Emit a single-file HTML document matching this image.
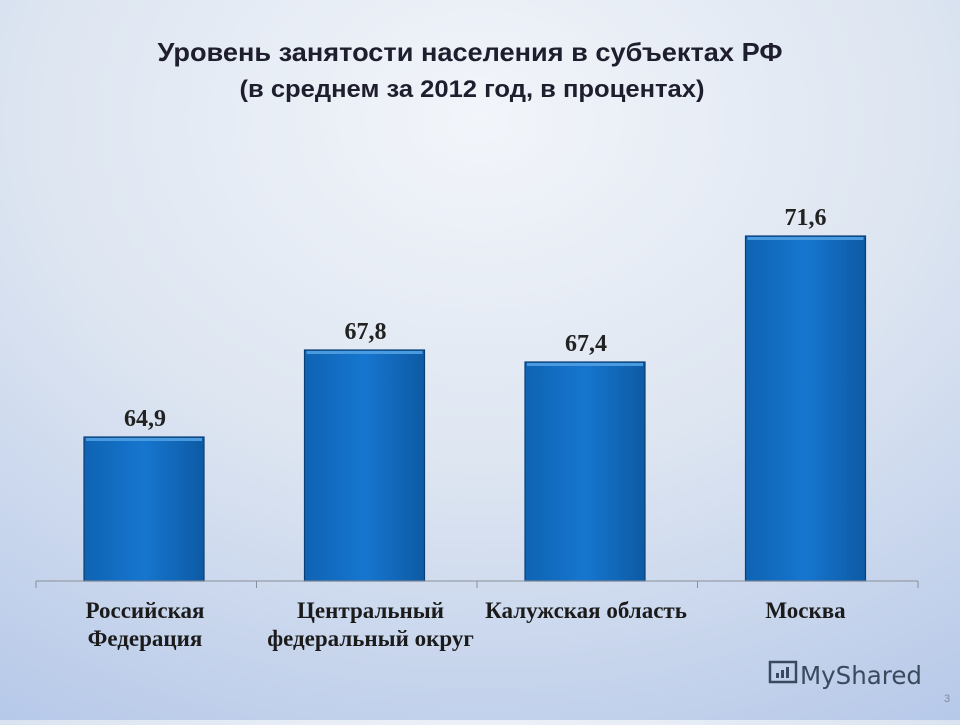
<!DOCTYPE html>
<html><head><meta charset="utf-8"><style>
html,body{margin:0;padding:0}
body{width:960px;height:720px;overflow:hidden;background:radial-gradient(ellipse 900px 700px at 480px 120px,#f2f5fa 0%,#dde5f1 50%,#b7c9e9 100%);font-family:"Liberation Sans",sans-serif}
</style></head><body>
<svg width="960" height="720" id="chart">
<defs>
<linearGradient id="bg" x1="0" x2="1"><stop offset="0" stop-color="#0f63b3"/><stop offset="0.5" stop-color="#1676cf"/><stop offset="1" stop-color="#0d5aa4"/></linearGradient>
</defs>
<text x="470" y="61" text-anchor="middle" font-family="Liberation Sans, DejaVu Sans, sans-serif" font-weight="bold" font-size="26" textLength="625" lengthAdjust="spacingAndGlyphs" fill="#1e1e2e">Уровень занятости населения в субъектах РФ</text>
<text x="472" y="97" text-anchor="middle" font-family="Liberation Sans, DejaVu Sans, sans-serif" font-weight="bold" font-size="24" textLength="465" lengthAdjust="spacingAndGlyphs" fill="#1e1e2e">(в среднем за 2012 год, в процентах)</text>
<g id="bars"></g>
<line x1="36" y1="581" x2="918" y2="581" stroke="#8a8f99" stroke-width="1"/>
<g id="labels"></g>
<g>
<rect x="770" y="662" width="26" height="20" fill="none" stroke="#3a4a5e" stroke-width="2.5"/>
<rect x="776" y="673" width="3" height="5" fill="#3a4a5e"/><rect x="781" y="670" width="3" height="8" fill="#3a4a5e"/><rect x="786" y="667" width="3" height="11" fill="#3a4a5e"/>
<text x="800" y="684" font-family="DejaVu Sans, sans-serif" font-size="25" textLength="122" lengthAdjust="spacingAndGlyphs" fill="#3a4a5e">MyShared</text>
</g>
<text x="944" y="702" font-size="11" fill="#7f8aa0">3</text>
</svg>
<script>
const categories=[["Российская","Федерация"],["Центральный","федеральный округ"],["Калужская область"],["Москва"]];
const values=[64.9,67.8,67.4,71.6];
const valueLabels=["64,9","67,8","67,4","71,6"];
const yMin=60.1, pxPerUnit=30, base=581;
const ns="http://www.w3.org/2000/svg";
function y(v){return base-(v-yMin)*pxPerUnit;}
function xc(i){return 34+220.5*i+110;}
const labelShift=[1,1,1,0];
const gb=document.getElementById('bars'), gl=document.getElementById('labels');
values.forEach((v,i)=>{
  const r=document.createElementNS(ns,'rect');
  
  
  r.setAttribute('x',xc(i)-60);r.setAttribute('y',y(v));r.setAttribute('width',120);r.setAttribute('height',base-y(v));
  r.setAttribute('fill','url(#bg)');r.setAttribute('stroke','#0a3f75');r.setAttribute('stroke-width','1.2');
  gb.appendChild(r);
  const hl=document.createElementNS(ns,'rect');
  
  
  hl.setAttribute('x',xc(i)-58);hl.setAttribute('y',y(v)+1);hl.setAttribute('width',116);hl.setAttribute('height',3);hl.setAttribute('fill','#4a9ae0');
  gb.appendChild(hl);
  const t=document.createElementNS(ns,'text');
  
  
  t.setAttribute('x',xc(i)+labelShift[i]);t.setAttribute('y',y(v)-11);t.setAttribute('text-anchor','middle');
  t.setAttribute('font-family','Liberation Serif, serif');t.setAttribute('font-weight','bold');t.setAttribute('font-size','24');t.setAttribute('fill','#222');
  t.textContent=valueLabels[i];gb.appendChild(t);
  categories[i].forEach((line,j)=>{
    const c=document.createElementNS(ns,'text');
    
    
    c.setAttribute('x',xc(i)+(i==0?1:(i==1?6:(i==2?1:0))));c.setAttribute('y',618+j*28);c.setAttribute('text-anchor','middle');
    c.setAttribute('font-family','Liberation Serif, serif');c.setAttribute('font-weight','bold');c.setAttribute('font-size','23');c.setAttribute('fill','#1b1b1b');
    c.textContent=line;gl.appendChild(c);
  });
});
for(let k=0;k<=4;k++){
  const l=document.createElementNS(ns,'line');
  
  
  const x=36+220.5*k;
  l.setAttribute('x1',x);l.setAttribute('x2',x);l.setAttribute('y1',581);l.setAttribute('y2',588);l.setAttribute('stroke','#8a8f99');
  gl.appendChild(l);
}
</script>
</body></html>
